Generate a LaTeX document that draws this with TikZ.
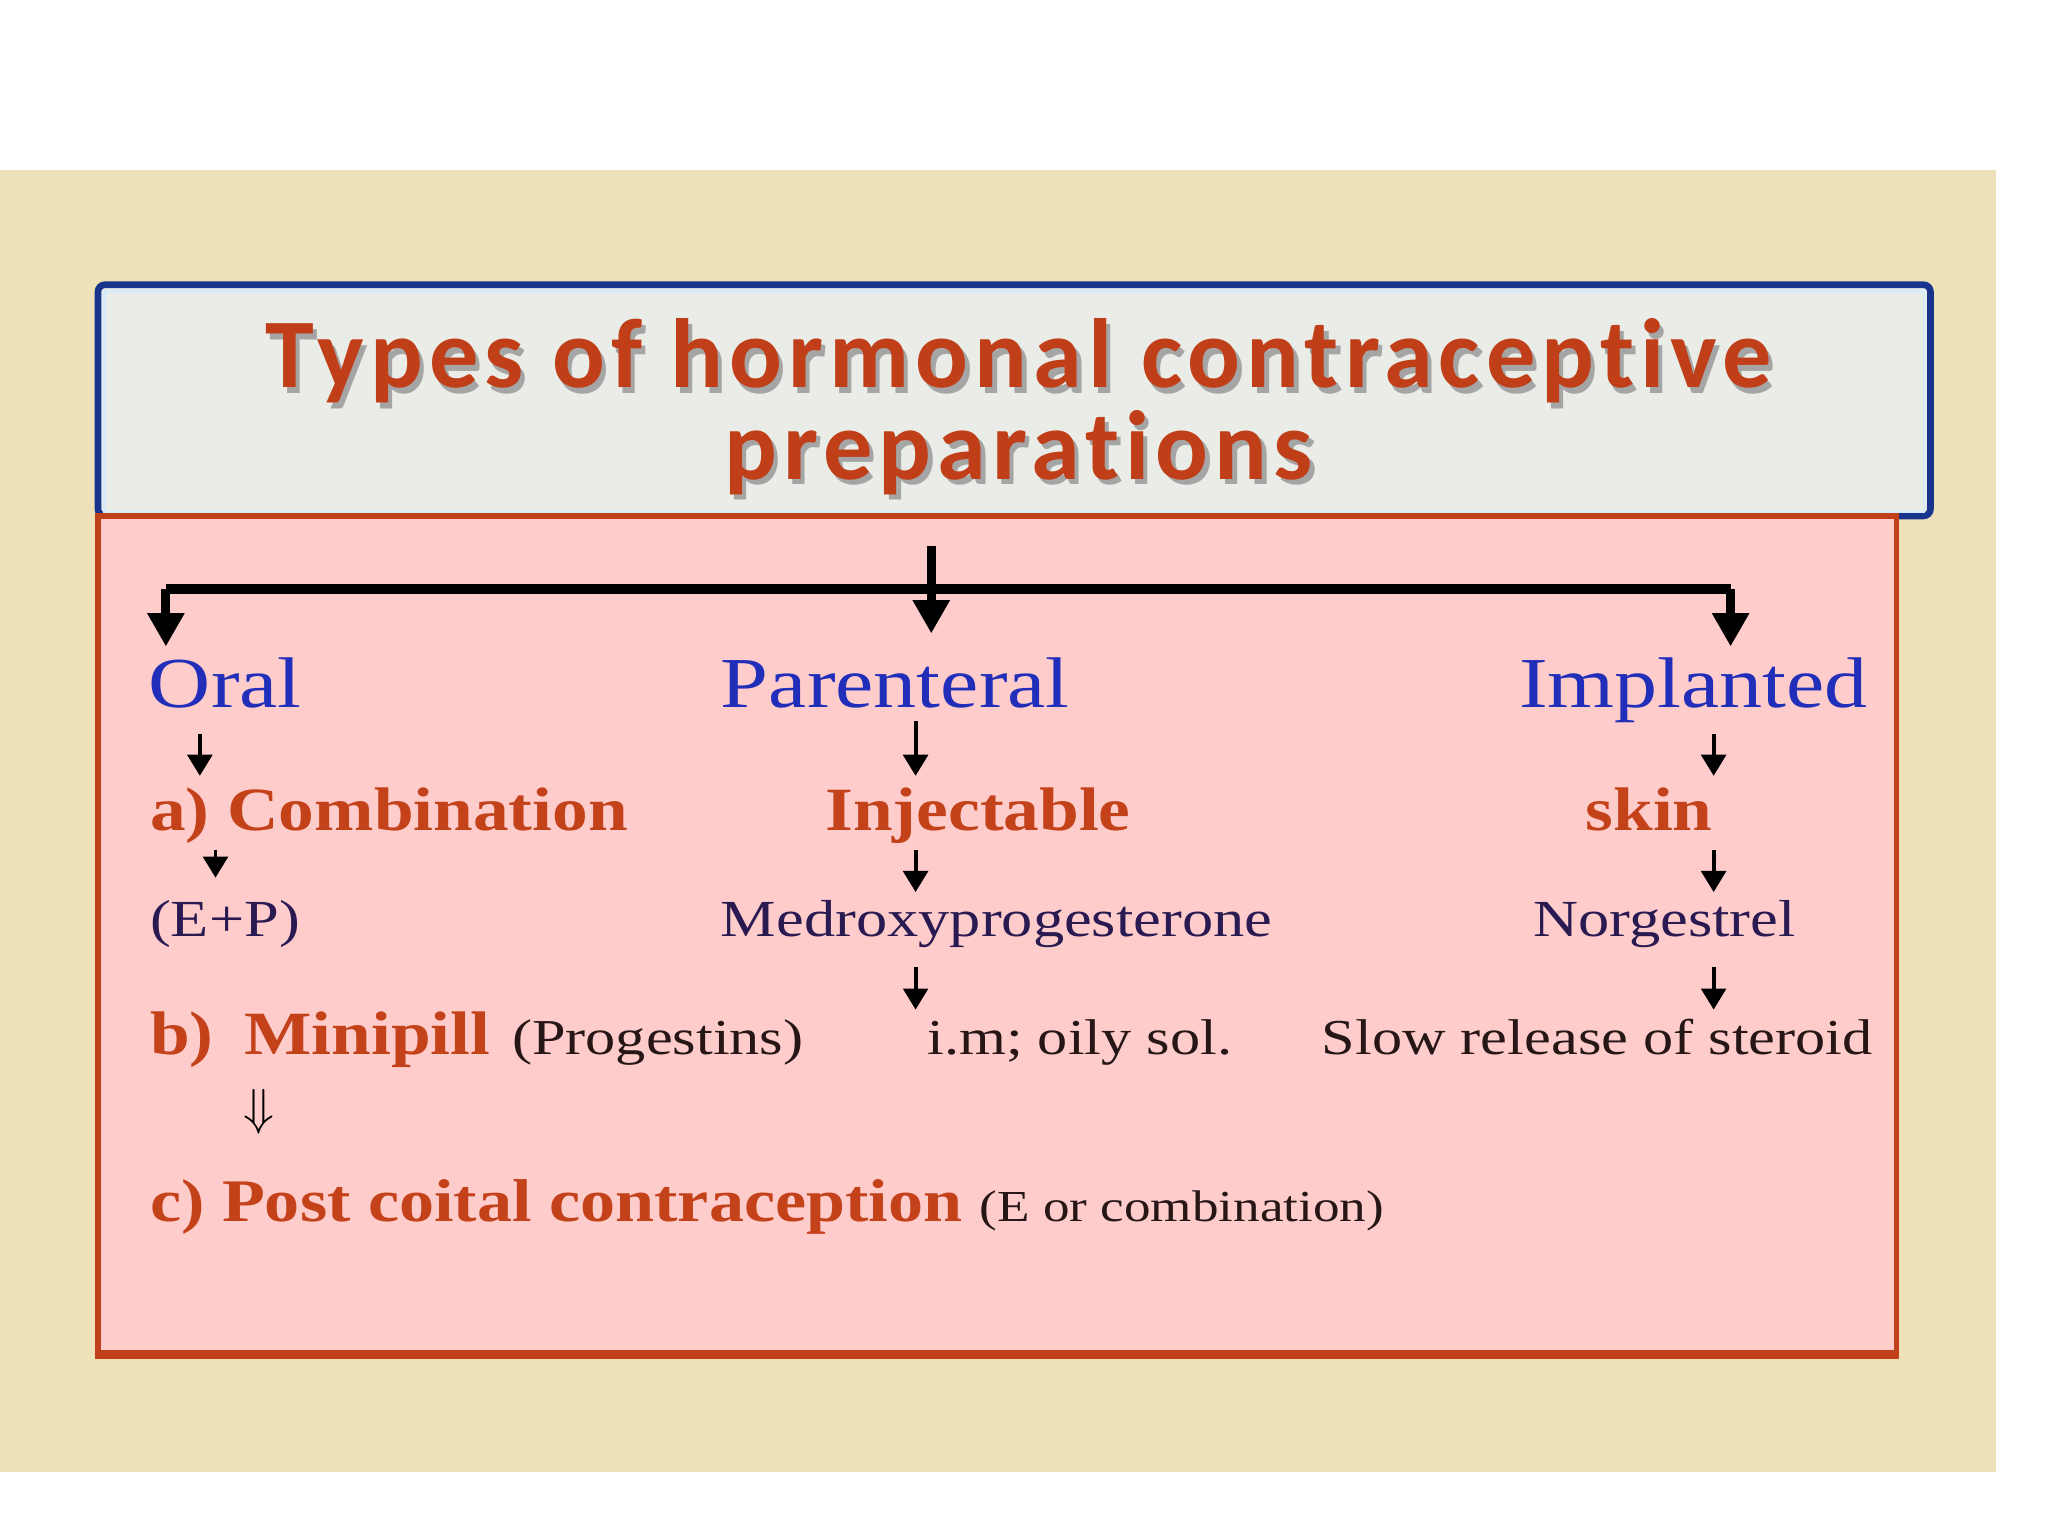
\documentclass[tikz,border=0pt]{standalone}
\usepackage{fontspec}
\usetikzlibrary{arrows.meta}
\newfontfamily\pal{Liberation Serif}[FakeStretch=1.2]
\newfontfamily\palb{Liberation Serif}[FakeStretch=1.16]
\newfontfamily\ttl{Carlito}[LetterSpace=6.2,Ligatures={NoCommon}]
\definecolor{beige}{RGB}{238,224,184}
\definecolor{titlefill}{RGB}{234,237,231}
\definecolor{shadowgray}{RGB}{165,165,165}
\definecolor{titleblue}{RGB}{24,52,140}
\definecolor{lightedge}{RGB}{215,236,250}
\definecolor{pinkfill}{RGB}{255,204,204}
\definecolor{frameorange}{RGB}{192,64,26}
\definecolor{ttlred}{RGB}{192,62,24}
\definecolor{headblue}{RGB}{32,46,185}
\definecolor{boldorange}{RGB}{196,66,26}
\definecolor{darknavy}{RGB}{42,26,82}
\definecolor{darktext}{RGB}{38,22,22}
\newcommand\shtext[1]{\rlap{\kern1.2pt\raisebox{-1.5pt}{\textcolor{shadowgray}{#1}}}#1}
\begin{document}
\begin{tikzpicture}[x=0.0130612cm,y=-0.0130612cm,
  txt/.style={inner sep=0pt,outer sep=0pt,anchor=base west},
  head/.style={txt,text=headblue,font=\pal\fontsize{20.4}{24}\selectfont},
  sub/.style={txt,text=boldorange,font=\palb\bfseries\fontsize{17.5}{21}\selectfont},
  leaf/.style={txt,text=darknavy,font=\pal\fontsize{14.8}{17}\selectfont},
  note/.style={txt,text=darktext,font=\pal\fontsize{14.3}{17}\selectfont},
  ttltext/.style={inner sep=0pt,align=center,text=ttlred,font=\ttl\bfseries\fontsize{28}{26}\selectfont},
  mainarrow/.style={line width=2.6pt,-{Triangle[width=10pt,length=9.5pt]}},
  mainline/.style={line width=2.6pt},
  smallarrow/.style={line width=1.1pt,-{Triangle[width=7pt,length=6pt]}}
]
\useasboundingbox (0,0) rectangle (1568,1176);
\fill[white] (0,0) rectangle (1568,1176);
\fill[beige] (0,130) rectangle (1528,1127);
% title box
\draw[titleblue,line width=1.9pt,fill=titlefill,rounded corners=2pt] (75,218) rectangle (1478,395);
\draw[lightedge,line width=0.8pt] (80,223) rectangle (1473,392);
% pink box
\draw[frameorange,line width=1.6pt,fill=pinkfill] (75,395) rectangle (1452,1038);
\draw[frameorange,line width=2.8pt] (74,1037) -- (1453,1037);
% title (anchor base = baseline of the last line)
\node[ttltext,anchor=base] (title) at (780,367) {\shtext{Types of hormonal contraceptive}\\\shtext{preparations}};
% branch
\coordinate (top) at (713,418);
\coordinate (hub) at (713,451);
\coordinate (lc) at (127,451);
\coordinate (rc) at (1325,451);
\coordinate (ltip) at (127,495);
\coordinate (mtip) at (713,485);
\coordinate (rtip) at (1325,495);
\draw[mainline] (lc) -- (rc);
\draw[mainarrow] (top) -- (mtip);
\draw[mainarrow] (lc) -- (ltip);
\draw[mainarrow] (rc) -- (rtip);
% headings
\node[head] (oral) at (114,542) {Oral};
\node[head] (par) at (552,542) {Parenteral};
\node[head] (imp) at (1163,542) {Implanted};
% second row
\node[sub] (comb) at (115,636) {a) Combination};
\node[sub] (inj) at (632,636) {Injectable};
\node[sub] (skin) at (1214,636) {skin};
% third row
\node[leaf] (ep) at (115,717) {(E+P)};
\node[leaf] (medro) at (552,717) {Medroxyprogesterone};
\node[leaf] (norg) at (1174,717) {Norgestrel};
% fourth row
\node[sub] (mini) at (115,807) {b)\hspace{0.5em}Minipill};
\node[note] (prog) at (392,807) {(Progestins)};
\node[note] (im) at (710,807) {i.m; oily sol.};
\node[note] (slow) at (1012,807) {Slow release of steroid};
% double arrow
\node[inner sep=0pt,text=black,font=\fontsize{15}{18}\selectfont] (dbl) at (198,851) {$\Downarrow$};
% fifth row
\node[sub,font=\palb\bfseries\fontsize{17.2}{21}\selectfont] (post) at (115,935) {c) Post coital contraception};
\node[note,font=\pal\fontsize{12.6}{15}\selectfont] (eor) at (750,935) {(E or combination)};
% small arrows
\coordinate (a1s) at (153,562); \coordinate (a1e) at (153,594);
\coordinate (a2s) at (165,651); \coordinate (a2e) at (165,672);
\coordinate (b1s) at (701,552); \coordinate (b1e) at (701,594);
\coordinate (b2s) at (701,651); \coordinate (b2e) at (701,683);
\coordinate (b3s) at (701,740); \coordinate (b3e) at (701,773);
\coordinate (c1s) at (1312,562); \coordinate (c1e) at (1312,594);
\coordinate (c2s) at (1312,651); \coordinate (c2e) at (1312,683);
\coordinate (c3s) at (1312,740); \coordinate (c3e) at (1312,773);
\foreach \s/\e in {a1s/a1e,a2s/a2e,b1s/b1e,b2s/b2e,b3s/b3e,c1s/c1e,c2s/c2e,c3s/c3e}
  \draw[smallarrow] (\s) -- (\e);
\end{tikzpicture}
\end{document}
